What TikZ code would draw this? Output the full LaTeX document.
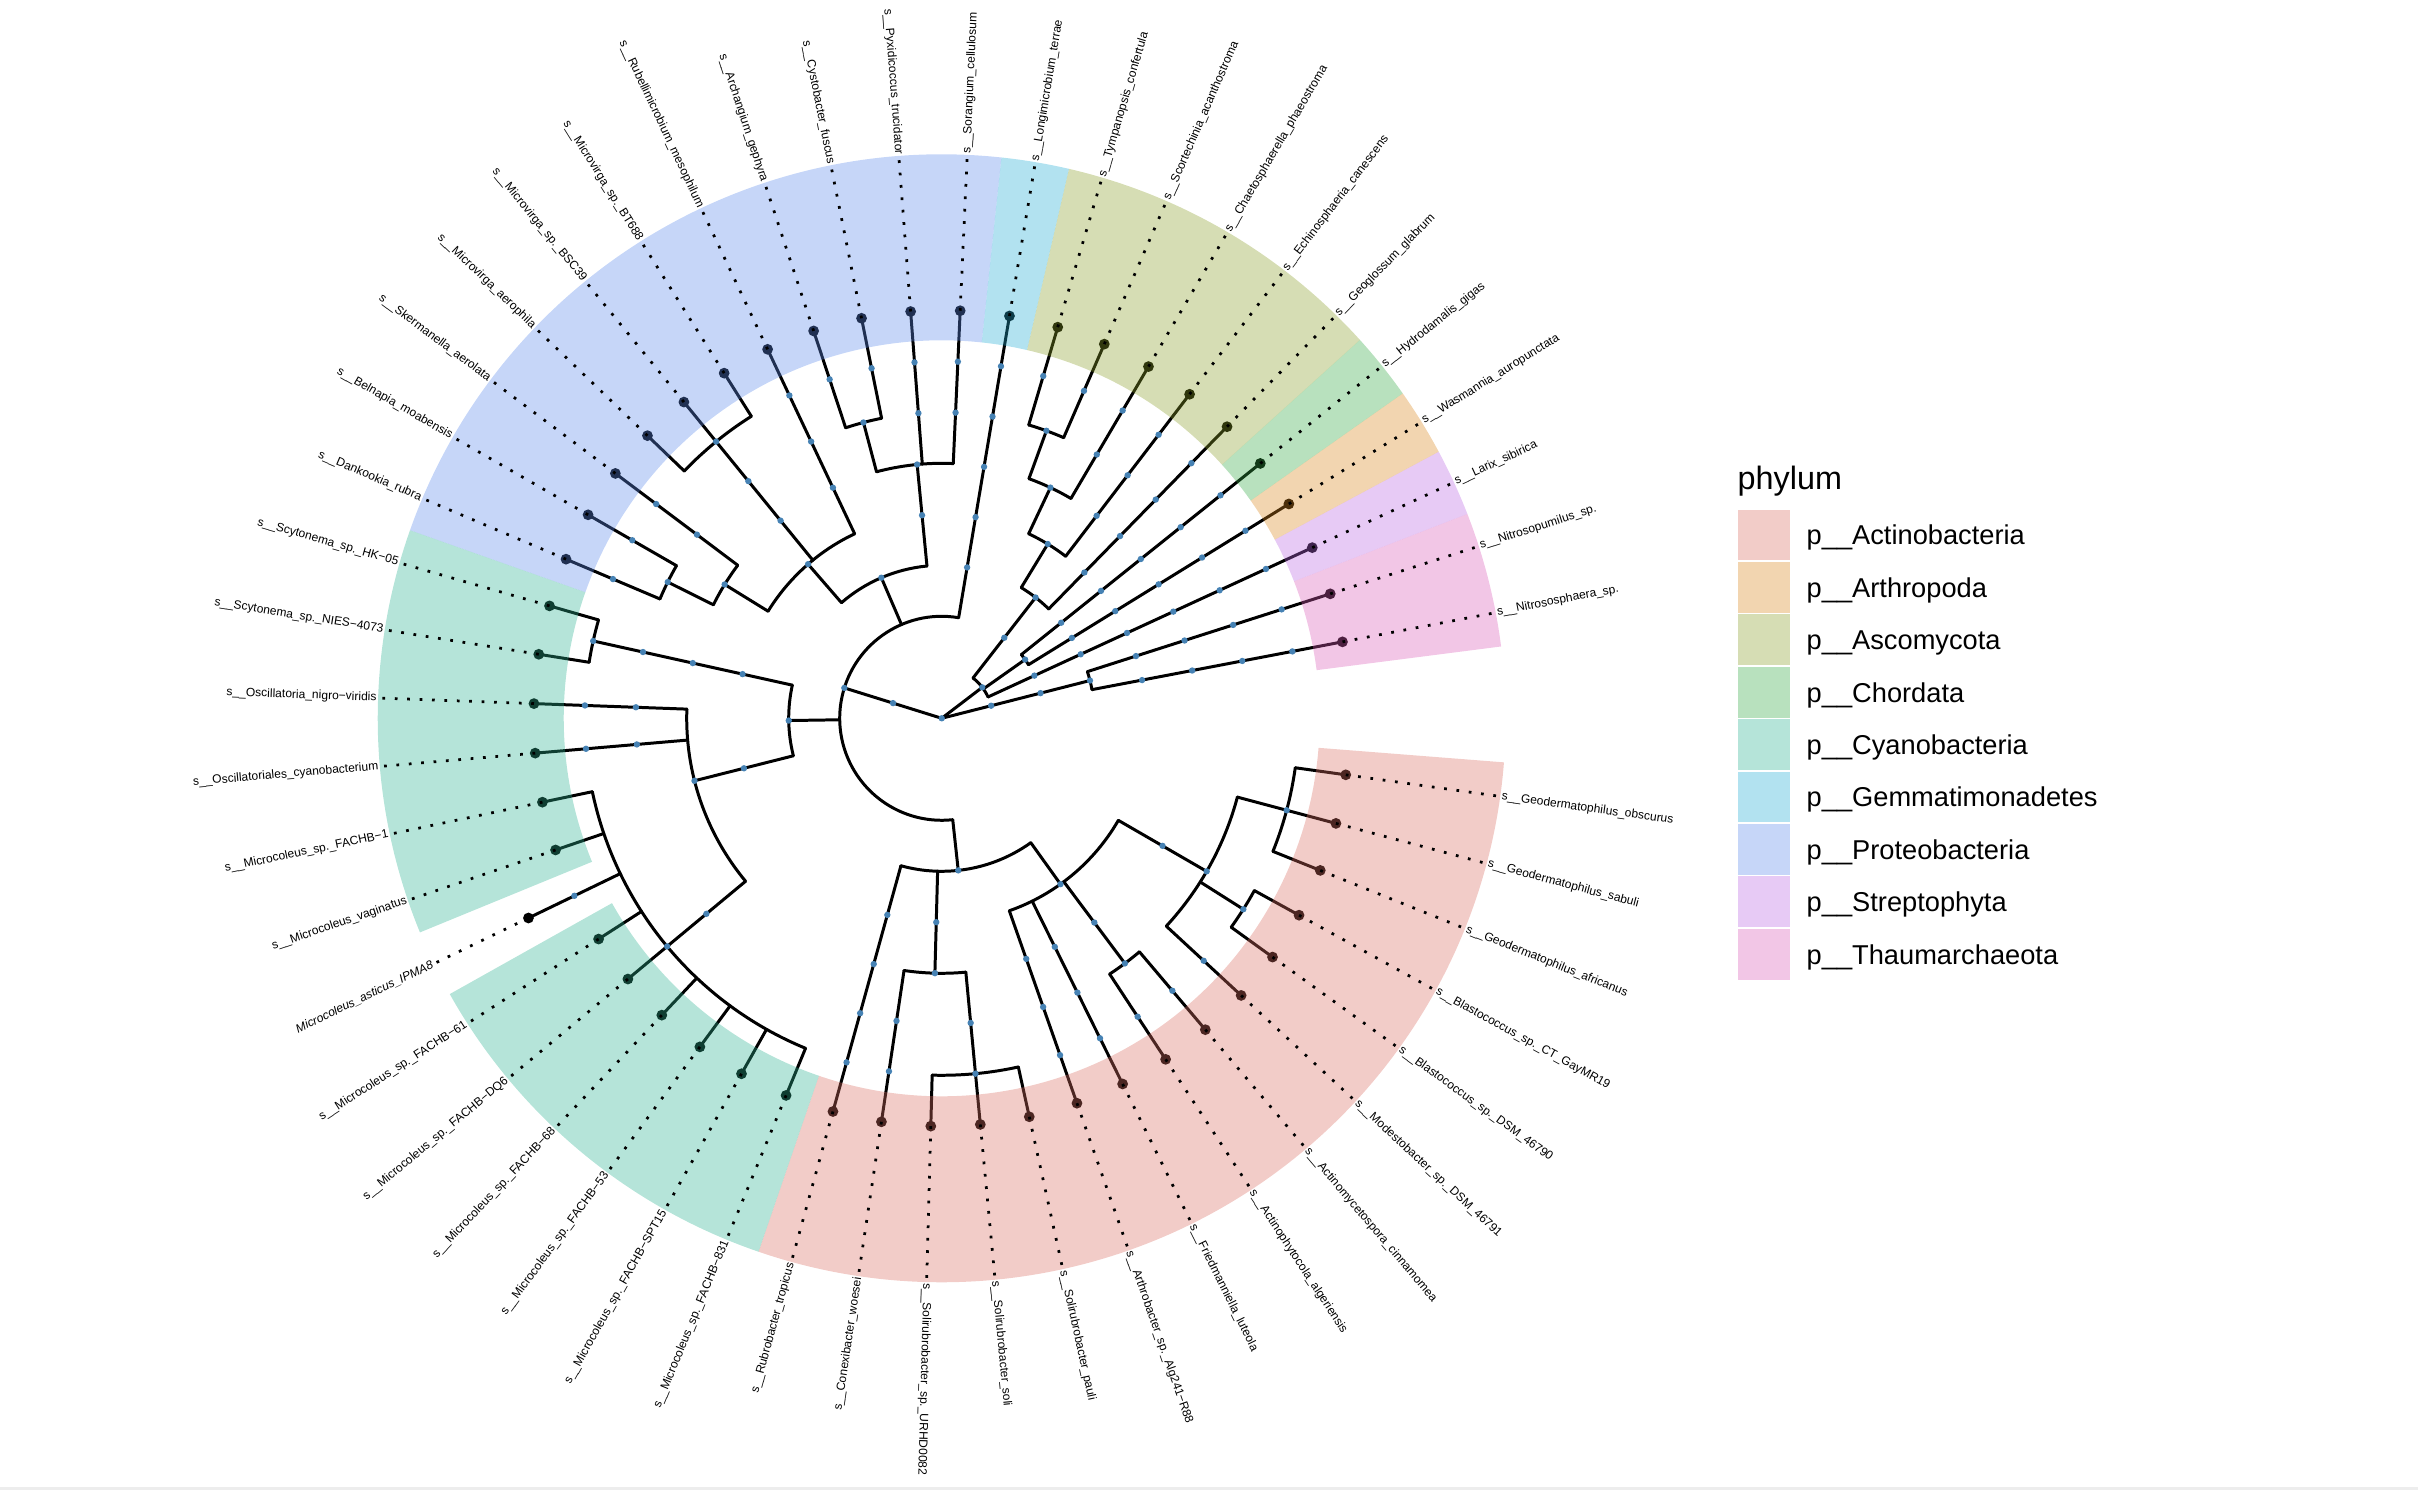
\documentclass[tikz,border=0pt]{standalone}
\usepackage{fontspec}
\setmainfont{Liberation Sans}
\usepackage{tikz}
\pgfdeclarelayer{dots}
\pgfdeclarelayer{hl}
\pgfdeclarelayer{top}
\pgfsetlayers{main,dots,hl,top}

\definecolor{cActino}{RGB}{218,109,98}
\definecolor{cArthro}{RGB}{218,135,29}
\definecolor{cAsco}{RGB}{138,158,40}
\definecolor{cChord}{RGB}{52,169,69}
\definecolor{cCyano}{RGB}{44,178,146}
\definecolor{cGemma}{RGB}{35,172,212}
\definecolor{cProteo}{RGB}{92,138,235}
\definecolor{cStrep}{RGB}{186,104,227}
\definecolor{cThaum}{RGB}{218,92,184}
\definecolor{steelblue}{HTML}{4682B4}

\newcommand\ud{51}
\newcommand\tang[1]{10.8+6.964*(#1)}
% radial branch: index, from depth, to depth (rank dots in between)
\newcommand\br[3]{%
  \draw[treeline] ({\tang{#1}}:{#2*\ud}) -- ({\tang{#1}}:{#3*\ud});
  \pgfmathtruncatemacro\ka{#2+1}\pgfmathtruncatemacro\kb{#3-1}%
  \ifnum\ka>\kb\else
  \begin{pgfonlayer}{dots}
  \foreach \k in {\ka,...,\kb}{\fill[rankdot] ({\tang{#1}}:{\k*\ud}) circle[radius=3.2];}
  \end{pgfonlayer}\fi}
% clade arc: depth, first index, last index, node index
\newcommand\cl[4]{%
  \draw[treeline] ({\tang{#2}}:{#1*\ud}) arc[start angle={\tang{#2}}, end angle={\tang{#3}}, radius={#1*\ud}];
  \begin{pgfonlayer}{dots}\fill[rankdot] ({\tang{#4}}:{#1*\ud}) circle[radius=3.2];\end{pgfonlayer}}
\newcommand\band[3]{%
  \fill[#3, fill opacity=0.35] ({\tang{#1}}:378) arc[start angle={\tang{#1}}, end angle={\tang{#2}}, radius=378]
    -- ({\tang{#2}}:564) arc[start angle={\tang{#2}}, end angle={\tang{#1}}, radius=564] -- cycle;}

\tikzset{
  treeline/.style={line width=0.85pt, line cap=round, line join=round},
  rankdot/.style={fill=steelblue},
  leaderline/.style={line width=0.78pt, dash pattern=on 0.78pt off 2.75pt},
  tiplab/.style={inner sep=0pt, outer sep=1pt, font=\fontsize{3.42}{4}\selectfont},
  legtext/.style={anchor=base west, inner sep=0pt, font=\fontsize{7.75}{9}\selectfont}
}

\begin{document}
\begin{tikzpicture}[x=0.01cm, y=0.01cm]
\useasboundingbox (0,0) rectangle (2418,1490);
\fill[black!7] (0,0) rectangle (2418,3);

\begin{scope}[shift={(941.7,771.7)}]
\begin{pgfonlayer}{dots}
\fill[rankdot] (0,0) circle[radius=3.2];
\end{pgfonlayer}

\br{0.5}{0}{3} \cl{3}{0}{1}{0.5}
\br{0}{3}{8} \br{1}{3}{8}

\br{3.8125}{0}{1} \cl{1}{2}{5.9375}{3.8125}
\br{2}{1}{8}
\br{3.5}{1}{2} \cl{2}{3}{4}{3.5}
\br{3}{2}{8} \br{4}{2}{8}
\br{5.9375}{1}{3} \cl{3}{5}{6.875}{5.9375}
\br{5}{3}{8}
\br{6.875}{3}{4} \cl{4}{6}{7.75}{6.875}
\br{6}{4}{8}
\br{7.75}{4}{5} \cl{5}{7}{8.5}{7.75}
\br{7}{5}{8}
\br{8.5}{5}{6} \cl{6}{8}{9}{8.5}
\br{8}{6}{8} \br{9}{6}{8}

\br{21.809}{0}{2} \cl{2}{10}{38.1111}{21.809}
\br{10}{2}{8}

\br{14.7083}{2}{3} \cl{3}{12.1667}{17.25}{14.7083}
\br{12.1667}{3}{5} \cl{5}{11}{13.5}{12.1667}
\br{11}{5}{8} \br{12}{5}{8}
\br{13.5}{5}{6} \cl{6}{13}{14}{13.5}
\br{13}{6}{8} \br{14}{6}{8}
\br{17.25}{3}{4} \cl{4}{15}{19.75}{17.25}
\br{15}{4}{8}
\br{17}{4}{7} \cl{7}{16}{18}{17}
\br{16}{7}{8} \br{17}{7}{8} \br{18}{7}{8}
\br{19.75}{4}{5} \cl{5}{19}{20.5}{19.75}
\br{19}{5}{8}
\br{20.5}{5}{6} \cl{6}{20}{21}{20.5}
\br{20}{6}{8} \br{21}{6}{8}

\br{24.4167}{2}{3} \cl{3}{22.5}{26.3333}{24.4167}
\br{22.5}{3}{7} \cl{7}{22}{23}{22.5}
\br{22}{7}{8} \br{23}{7}{8}
\br{26.3333}{3}{5} \cl{5}{24}{30}{26.3333}
\br{24}{5}{8} \br{25}{5}{8}
\br{30}{5}{7} \cl{7}{26}{34}{30}
\foreach \j in {26,27,29,30,31,32,33,34} {\br{\j}{7}{8}}
\br{28}{7}{9}

\br{38.1111}{2}{3} \cl{3}{35}{42.3333}{38.1111}
\br{35}{3}{8}
\br{37}{3}{5} \cl{5}{36}{38}{37}
\br{36}{5}{8}
\br{38}{5}{7} \cl{7}{37}{39}{38}
\br{37}{7}{8} \br{38}{7}{8} \br{39}{7}{8}
\br{42.3333}{3}{4} \cl{4}{40}{45.8333}{42.3333}
\br{40}{4}{8} \br{41}{4}{8}
\br{42.5}{4}{6} \cl{6}{42}{43}{42.5}
\br{42}{6}{8} \br{43}{6}{8}
\br{45.8333}{4}{6} \cl{6}{44}{48}{45.8333}
\br{44}{6}{8}
\br{45.5}{6}{7} \cl{7}{45}{46}{45.5}
\br{45}{7}{8} \br{46}{7}{8}
\br{48}{6}{7} \cl{7}{47}{49}{48}
\br{47}{7}{8} \br{48}{7}{8} \br{49}{7}{8}

\begin{pgfonlayer}{dots}
\foreach \i in {0,...,49}{
  \ifnum\i=28 \def\dd{9}\else\def\dd{8}\fi
  \coordinate (t\i) at ({\tang{\i}}:{\dd*\ud});
  \fill (t\i) circle[radius=5.4];
}
\end{pgfonlayer}

\begin{pgfonlayer}{hl}
\band{-0.5}{1.5}{cThaum}
\band{1.5}{2.5}{cStrep}
\band{2.5}{3.5}{cArthro}
\band{3.5}{4.5}{cChord}
\band{4.5}{9.5}{cAsco}
\band{9.5}{10.5}{cGemma}
\band{10.5}{21.5}{cProteo}
\band{21.5}{27.5}{cCyano}
\band{28.5}{34.5}{cCyano}
\band{34.5}{49.5}{cActino}
\end{pgfonlayer}

\begin{pgfonlayer}{top}
\foreach \i/\nm in {0/Nitrososphaera\_sp., 1/Nitrosopumilus\_sp., 2/Larix\_sibirica,
  3/Wasmannia\_auropunctata, 4/Hydrodamalis\_gigas, 5/Geoglossum\_glabrum,
  6/Echinosphaeria\_canescens, 7/Chaetosphaerella\_phaeostroma, 8/Scortechinia\_acanthostroma,
  9/Tympanopsis\_confertula, 10/Longimicrobium\_terrae, 11/Sorangium\_cellulosum,
  12/Pyxidicoccus\_trucidator, 13/Cystobacter\_fuscus, 14/Archangium\_gephyra,
  15/Rubellimicrobium\_mesophilum, 16/Microvirga\_sp.\_BT688, 17/Microvirga\_sp.\_BSC39,
  18/Microvirga\_aerophila, 19/Skermanella\_aerolata, 20/Belnapia\_moabensis,
  21/Dankookia\_rubra, 22/Scytonema\_sp.\_HK−05, 23/Scytonema\_sp.\_NIES−4073,
  24/Oscillatoria\_nigro−viridis, 25/Oscillatoriales\_cyanobacterium, 26/Microcoleus\_sp.\_FACHB−1,
  27/Microcoleus\_vaginatus, 29/Microcoleus\_sp.\_FACHB−61, 30/Microcoleus\_sp.\_FACHB−DQ6,
  31/Microcoleus\_sp.\_FACHB−68, 32/Microcoleus\_sp.\_FACHB−53, 33/Microcoleus\_sp.\_FACHB−SPT15,
  34/Microcoleus\_sp.\_FACHB−831, 35/Rubrobacter\_tropicus, 36/Conexibacter\_woesei,
  37/Solirubrobacter\_sp.\_URHD0082, 38/Solirubrobacter\_soli, 39/Solirubrobacter\_pauli,
  40/Arthrobacter\_sp.\_Alg241−R88, 41/Friedmanniella\_luteola, 42/Actinophytocola\_algeriensis,
  43/Actinomycetospora\_cinnamomea, 44/Modestobacter\_sp.\_DSM\_46791, 45/Blastococcus\_sp.\_DSM\_46790,
  46/Blastococcus\_sp.\_CT\_GayMR19, 47/Geodermatophilus\_africanus, 48/Geodermatophilus\_sabuli,
  49/Geodermatophilus\_obscurus}{
  \pgfmathsetmacro\a{\tang{\i}}
  \def\fl{0}
  \ifnum\i>11 \ifnum\i<37 \def\fl{1}\fi\fi
  \ifnum\fl=1
    \node[tiplab, anchor=east, rotate=\a+180] (l\i) at (\a:562) {s\_\_\nm};
  \else
    \node[tiplab, anchor=west, rotate=\a] (l\i) at (\a:562) {s\_\_\nm};
  \fi
  \draw[leaderline] (t\i) -- (l\i);
}
\pgfmathsetmacro\a{\tang{28}}
\node[tiplab, anchor=east, rotate=\a+180, font=\fontsize{3.42}{4}\selectfont\itshape] (l28) at (\a:562) {Microcoleus\_asticus\_IPMA8};
\draw[leaderline] (t28) -- (l28);
\end{pgfonlayer}
\end{scope}

\node[anchor=base west, inner sep=0pt, font=\fontsize{9.2}{11}\selectfont] (legtitle) at (1737,1000) {phylum};
\foreach \k/\col/\nm in {0/cActino/Actinobacteria, 1/cArthro/Arthropoda, 2/cAsco/Ascomycota,
  3/cChord/Chordata, 4/cCyano/Cyanobacteria, 5/cGemma/Gemmatimonadetes,
  6/cProteo/Proteobacteria, 7/cStrep/Streptophyta, 8/cThaum/Thaumarchaeota}{
  \fill[\col, fill opacity=0.35] (1738,{980.4-52.4*\k}) rectangle (1790,{929.6-52.4*\k});
  \node[legtext] (key\k) at (1806,{945-52.4*\k}) {p\_\_\nm};
}
\end{tikzpicture}
\end{document}
